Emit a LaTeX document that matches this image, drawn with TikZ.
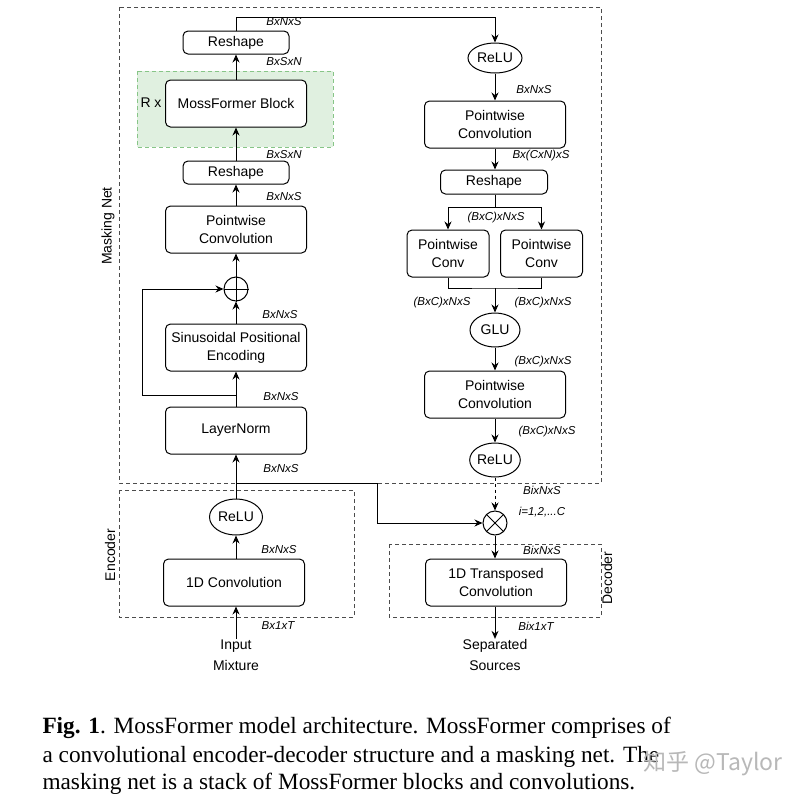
\documentclass[tikz,border=0pt]{standalone}
\usepackage{fontspec}
\setmainfont{Liberation Serif}
\setsansfont{Liberation Sans}
\newfontfamily\cjkfont{Noto Sans CJK SC}
\usetikzlibrary{arrows.meta,shapes.geometric}
\begin{document}
\begin{tikzpicture}[x=1pt,y=-1pt,
    blk/.style={draw,fill=white,rounded corners=5pt,minimum width=141pt,minimum height=47pt,
      inner sep=0pt,align=center,font=\sffamily\fontsize{14}{18}\selectfont},
    rshp/.style={blk,minimum width=106pt,minimum height=23pt},
    half/.style={blk,minimum width=82pt},
    act/.style={draw,fill=white,ellipse,minimum width=50pt,minimum height=34pt,inner sep=0pt,
      font=\sffamily\fontsize{14}{16}\selectfont},
    opn/.style={draw,fill=white,circle,minimum size=24pt,inner sep=0pt},
    lab/.style={inner sep=0pt,font=\sffamily\itshape\fontsize{11.5}{13}\selectfont},
    txt/.style={inner sep=0pt,align=center,font=\sffamily\fontsize{14}{21}\selectfont},
    grp/.style={draw=black!70,dash pattern=on 4pt off 3pt,line width=0.8pt},
    capt/.style={anchor=base west,inner sep=0pt,font=\fontsize{23.3}{28}\selectfont},
    line width=1pt]
  \useasboundingbox[fill=white] (0,0) rectangle (809,793);

  \draw[grp] (119,7) rectangle (601,483);
  \draw[grp] (119,490) rectangle (354,617);
  \draw[grp] (389,544) rectangle (601,617);
  \draw[grp,draw=green!35!gray!70,fill=green!50!black!12] (137,71) rectangle (333,147);

  \node[txt,rotate=90] (masklab) at (108,226) {Masking Net};
  \node[txt,rotate=90] (enclab) at (110,555) {Encoder};
  \node[txt,rotate=90] (declab) at (607,578) {Decoder};
  \node[txt] (rep) at (151,103) {R x};

  \node[rshp] (reshapeA) at (236,42.5) {Reshape};
  \node[blk] (block) at (236,103.5) {MossFormer Block};
  \node[rshp] (reshapeB) at (236,172.5) {Reshape};
  \node[blk] (pwconvL) at (236,229.5) {Pointwise\\Convolution};
  \node[opn] (oplus) at (236,289) {};
  \node[blk] (sinpe) at (236,347.5) {Sinusoidal Positional\\Encoding};
  \node[blk] (lnorm) at (236,430.5) {LayerNorm};
  \node[act,minimum width=53pt,minimum height=36pt] (reluE) at (236,517) {ReLU};
  \node[blk] (convE) at (234,582.5) {1D Convolution};
  \node[txt] (inp) at (236,655) {Input\\Mixture};

  \node[act,minimum width=54pt,minimum height=30pt] (reluA) at (495,58) {ReLU};
  \node[blk] (pwconvR) at (495,124.5) {Pointwise\\Convolution};
  \node[rshp,minimum width=107pt,minimum height=24pt] (reshapeC) at (494,182) {Reshape};
  \node[half] (pwL) at (448,253.5) {Pointwise\\Conv};
  \node[half] (pwR) at (541.5,253.5) {Pointwise\\Conv};
  \node[act] (glu) at (495,330) {GLU};
  \node[blk] (pwconvR2) at (495,394.5) {Pointwise\\Convolution};
  \node[act] (reluB) at (495,460) {ReLU};
  \node[opn] (otimes) at (495,523) {};
  \node[blk] (tconv) at (496,582.5) {1D Transposed\\Convolution};
  \node[txt] (sep) at (495,655) {Separated\\Sources};

  \node[lab] (l1) at (284,22) {BxNxS};
  \node[lab] (l2) at (284,62) {BxSxN};
  \node[lab] (l3) at (284,155) {BxSxN};
  \node[lab] (l4) at (284,197) {BxNxS};
  \node[lab] (l5) at (280,315) {BxNxS};
  \node[lab] (l6) at (281,397) {BxNxS};
  \node[lab] (l7) at (281,469) {BxNxS};
  \node[lab] (l8) at (279,550) {BxNxS};
  \node[lab] (l9) at (278,626) {Bx1xT};
  \node[lab] (r1) at (534,90) {BxNxS};
  \node[lab] (r2) at (541,156) {Bx(CxN)xS};
  \node[lab] (r3) at (496,218) {(BxC)xNxS};
  \node[lab] (r4) at (442,303) {(BxC)xNxS};
  \node[lab] (r5) at (543,303) {(BxC)xNxS};
  \node[lab] (r6) at (543,362) {(BxC)xNxS};
  \node[lab] (r7) at (547,432) {(BxC)xNxS};
  \node[lab] (r8) at (542,490) {BixNxS};
  \node[lab] (r9) at (542,512) {i=1,2,...C};
  \node[lab] (r10) at (542,550) {BixNxS};
  \node[lab] (r11) at (536,626) {Bix1xT};

  \coordinate (topturn) at (495,17);
  \coordinate (fbsplit) at (236,395);
  \coordinate (fbturn) at (142,395);
  \coordinate (encsplit) at (236,483);
  \coordinate (encturn) at (377,483);
  \coordinate (fork) at (495,207);
  \coordinate (merge) at (495,288);

  \draw (oplus.north) -- (oplus.south) (oplus.west) -- (oplus.east);
  \draw (otimes.north west) -- (otimes.south east) (otimes.north east) -- (otimes.south west);

  \begin{scope}[-{Stealth[length=8pt,width=7pt]}]
    \draw (inp) to (convE.south -| inp);
    \draw (convE.north -| reluE) to (reluE);
    \draw (reluE) to (lnorm);
    \draw (lnorm) to (sinpe);
    \draw (fbsplit) -- (fbturn) |- (oplus);
    \draw (sinpe) to (oplus);
    \draw (oplus) to (pwconvL);
    \draw (pwconvL) to (reshapeB);
    \draw (reshapeB) to (block);
    \draw (block) to (reshapeA);
    \draw (reshapeA.north) |- (topturn) -- (reluA);
    \draw (reluA) to (pwconvR);
    \draw (pwconvR) to (reshapeC.north -| pwconvR);
    \draw (reshapeC.south -| fork) -- (fork) -| (pwL);
    \draw (fork) -| (pwR);
    \draw[-] (pwL) |- (merge) -| (pwR);
    \draw (merge) to (glu);
    \draw (glu) to (pwconvR2);
    \draw (pwconvR2) to (reluB);
    \draw[dashed] (reluB) to (otimes);
    \draw (encsplit) -- (encturn) |- (otimes);
    \draw (otimes) to (tconv.north -| otimes);
    \draw (tconv.south -| sep) to (sep);
  \end{scope}

  \node[capt] (cap1) at (42,733) {\textbf{Fig. 1}. MossFormer model architecture. MossFormer comprises of};
  \node[capt] (cap2) at (42,762) {a convolutional encoder-decoder structure and a masking net. The};
  \node[capt] (cap3) at (42,789) {masking net is a stack of MossFormer blocks and convolutions.};
  \node[anchor=base west,inner sep=0pt,text=black!28,font=\cjkfont\fontsize{23}{26}\selectfont] (wm) at (643,770) {知乎 @Taylor};
\end{tikzpicture}
\end{document}
